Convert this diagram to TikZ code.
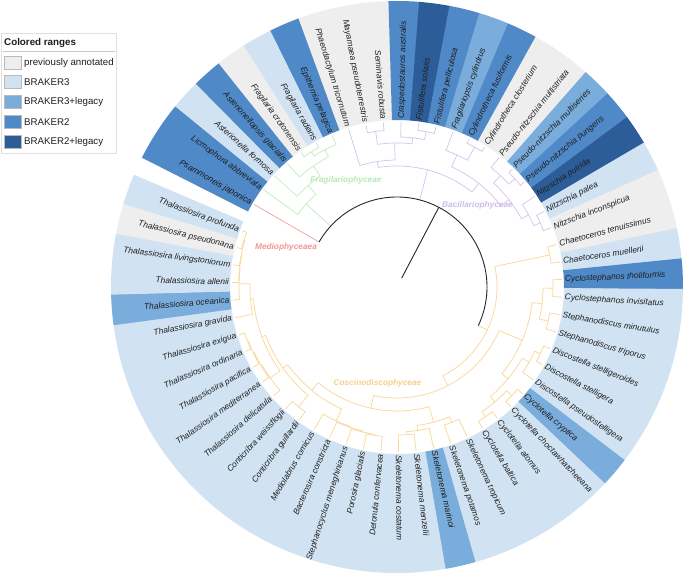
\documentclass[tikz,border=0pt]{standalone}
\usepackage{fontspec}
\setmainfont{Liberation Sans}
\definecolor{PA}{RGB}{237,238,237}
\definecolor{B3}{RGB}{209,227,242}
\definecolor{B3L}{RGB}{122,172,220}
\definecolor{B2}{RGB}{79,137,199}
\definecolor{B2L}{RGB}{45,93,153}
\definecolor{cpk}{RGB}{244,160,160}
\definecolor{cgr}{RGB}{190,238,190}
\definecolor{cpu}{RGB}{214,196,236}
\definecolor{cor}{RGB}{250,214,150}
\definecolor{tpk}{RGB}{242,150,150}
\definecolor{tgr}{RGB}{182,234,182}
\definecolor{tpu}{RGB}{205,188,232}
\definecolor{tor}{RGB}{248,208,140}
\definecolor{txt}{RGB}{30,30,30}
\newcommand\nd[6]{%
 \pgfmathsetmacro\ndAa{150-(#3-1)*6.140351}%
 \pgfmathsetmacro\ndAb{150-(#5-1)*6.140351}%
 \draw[#1] (\ndAa:#4pt) -- (\ndAa:#2pt) arc[start angle=\ndAa, end angle=\ndAb, radius=#2pt] -- (\ndAb:#6pt);}
\newcommand\stm[4]{%
 \pgfmathsetmacro\ndAa{150-(#2-1)*6.140351}%
 \draw[#1] (\ndAa:#3pt) -- (\ndAa:#4pt);}
\begin{document}
\begin{tikzpicture}[x=1pt,y=1pt,
  gr/.style={cgr,line width=0.7pt},
  pu/.style={cpu,line width=0.7pt},
  or/.style={cor,line width=0.7pt},
  pk/.style={cpk,line width=0.7pt},
  rt/.style={black!85,line width=0.9pt},
  leaf/.style={font=\fontsize{8.4}{9}\selectfont\itshape,text=txt,inner sep=0pt},
  clab/.style={font=\fontsize{8.3}{9}\selectfont\bfseries\itshape,inner sep=0pt},
  legtxt/.style={font=\fontsize{9.7}{11}\selectfont,text=txt,inner sep=0pt,anchor=west},
  legbox/.style={draw=gray!55,line width=0.4pt}]
\useasboundingbox (-397,-289) rectangle (288,287);
\fill[white] (-397,-289) rectangle (288,287);
% colored ranges
\foreach \i/\c in {1/B2,2/B2,3/B3,4/B2,5/PA,6/B3,7/B2,8/PA,9/PA,10/PA,11/B2,12/B2L,13/B2,14/B3L,15/B2,16/PA,17/PA,18/B3L,19/B2,20/B2L,21/B3,22/PA,23/PA,24/B3,25/B2,26/B3,27/B3,28/B3,29/B3,30/B3,31/B3,32/B3L,33/B3,34/B3,35/B3,36/B3,37/B3,38/B3L,39/B3,40/B3,41/B3,42/B3,43/B3,44/B3,45/B3,46/B3,47/B3,48/B3,49/B3,50/B3,51/B3,52/B3,53/B3,54/B3L,55/B3,56/B3,57/PA,58/B3}{
  \pgfmathsetmacro\bA{150-(\i-1)*6.140351+3.12}
  \pgfmathsetmacro\bB{150-(\i-1)*6.140351-3.12}
  \fill[\c] (\bA:167pt) arc[start angle=\bA,end angle=\bB,radius=167pt] -- (\bB:286pt) arc[start angle=\bB,end angle=\bA,radius=286pt] -- cycle;
}
% Fragilariophyceae
\nd{gr}{160}{5}{165}{6}{165}
\nd{gr}{155}{5.5}{160}{7}{165}
\nd{gr}{147}{4}{165}{6.25}{155}
\nd{gr}{135}{3}{165}{5.125}{147}
\nd{gr}{123}{2}{165}{4.0625}{135}
% Bacillariophyceae
\nd{pu}{158}{12}{165}{13}{165}
\nd{pu}{150}{11}{165}{12.5}{158}
\nd{pu}{157}{9}{165}{10}{165}
\nd{pu}{144}{9.5}{157}{11.75}{150}
\nd{pu}{127}{8}{165}{10.625}{144}
\nd{pu}{160}{15}{165}{16}{165}
\nd{pu}{145}{14}{165}{15.5}{160}
\nd{pu}{160}{18}{165}{19}{165}
\nd{pu}{152}{17}{165}{18.5}{160}
\nd{pu}{157}{21}{165}{22}{165}
\nd{pu}{150}{20}{165}{21.5}{157}
\nd{pu}{142}{17.75}{152}{20.75}{150}
\nd{pu}{132}{14.75}{145}{19.25}{142}
\nd{pu}{121}{9.3125}{127}{17}{132}
% Coscinodiscophyceae
\nd{or}{156}{23}{165}{24}{165}
\nd{or}{156}{25}{165}{26}{165}
\nd{or}{155}{27}{165}{28}{165}
\nd{or}{146}{25.5}{156}{27.5}{155}
\nd{or}{158}{29}{165}{30}{165}
\nd{or}{152}{29.5}{158}{31}{165}
\nd{or}{158}{32}{165}{33}{165}
\nd{or}{157}{34}{165}{35}{165}
\nd{or}{151}{32.5}{158}{34.5}{157}
\nd{or}{144}{30.25}{152}{33.5}{151}
\nd{or}{136}{26.5}{146}{31.875}{144}
\nd{or}{146}{36}{165}{37}{165}
\nd{or}{148}{39}{165}{40}{165}
\nd{or}{145}{38}{165}{39.5}{148}
\nd{or}{140}{36.5}{146}{38.75}{145}
\nd{or}{150}{41}{165}{42}{165}
\nd{or}{149}{41.5}{150}{43}{165}
\nd{or}{148}{42.25}{149}{44}{165}
\nd{or}{147}{43.125}{148}{45}{165}
\nd{or}{155}{46}{165}{47}{165}
\nd{or}{159}{51}{165}{52}{165}
\nd{or}{158}{50}{165}{51.5}{159}
\nd{or}{157}{49}{165}{50.75}{158}
\nd{or}{156}{48}{165}{49.875}{157}
\nd{or}{160}{57}{165}{58}{165}
\nd{or}{159}{56}{165}{57.5}{160}
\nd{or}{158.5}{55}{165}{56.75}{159}
\nd{or}{158}{54}{165}{55.875}{158.5}
\nd{or}{147}{53}{165}{54.9375}{158}
\nd{or}{144}{48.9375}{156}{53.96875}{147}
\nd{or}{140}{46.5}{155}{51.453125}{144}
\nd{or}{134}{44.0625}{147}{48.9765625}{140}
\nd{or}{124}{37.625}{140}{46.51953}{134}
\nd{or}{111}{29.1875}{136}{42.07227}{124}
\nd{or}{100}{23.5}{156}{35.62988}{111}
% root
\stm{pk}{1}{90}{165}
\stm{gr}{3.03125}{90}{123}
\stm{pu}{13.15625}{90}{121}
\stm{or}{29.56494}{90}{100}
\stm{rt}{15.28247}{10}{90}
\pgfmathsetmacro\rtB{150-(29.56494-1)*6.140351}
\draw[rt] (150:90pt) arc[start angle=150,end angle=\rtB,radius=90pt];
% leaf labels
\foreach \i/\t in {1/Psammoneis japonica,2/Licmophora abbreviata,3/Asterionella formosa,4/Asterionellopsis glacialis,5/Fragilaria crotonensis,6/Fragilaria radians,7/Epithemia pelagica,8/Phaeodactylum tricornutum,9/Mayamaea pseudoterrestris,10/Seminavis robusta,11/Craspedostauros australis,12/Fistulifera solaris,13/Fistulifera pelliculosa,14/Fragilariopsis cylindrus,15/Cylindrotheca fusiformis,16/Cylindrotheca closterium,17/Pseudo-nitzschia multistriata,18/Pseudo-nitzschia multiseries,19/Pseudo-nitzschia pungens,20/Nitzschia putrida,21/Nitzschia palea,22/Nitzschia inconspicua,23/Chaetoceros tenuissimus,24/Chaetoceros muellerii,25/Cyclostephanos tholiformis,26/Cyclostephanos invisitatus,27/Stephanodiscus minutulus,28/Stephanodiscus triporus,29/Discostella stelligeroides,30/Discostella stelligera,31/Discostella pseudostelligera,32/Cyclotella cryptica,33/Cyclotella choctawhatcheeana,34/Cyclotella atomus,35/Cyclotella baltica,36/Skeletonema tropicum,37/Skeletonema potamos,38/Skeletonema marinoi,39/Skeletonema menzelii,40/Skeletonema costatum,41/Detonula confervacea,42/Porosira glacialis,43/Stephanocyclus meneghinianus,44/Bacterosira constricta,45/Mediolabrus comicus,46/Conticribra guillardii,47/Conticribra weissflogii,48/Thalassiosira delicatula,49/Thalassiosira mediterranea,50/Thalassiosira pacifica,51/Thalassiosira ordinaria,52/Thalassiosira exigua,53/Thalassiosira gravida,54/Thalassiosira oceanica,55/Thalassiosira allenii,56/Thalassiosira livingstoniorum,57/Thalassiosira pseudonana,58/Thalassiosira profunda}{
  \pgfmathsetmacro\lA{150-(\i-1)*6.140351}
  \pgfmathsetmacro\lR{\lA+180}
  \ifnum\i<11
    \node[leaf,anchor=mid east,rotate=\lR] (leaf\i) at (\lA:168pt) {\t};
  \else\ifnum\i>40
    \node[leaf,anchor=mid east,rotate=\lR] (leaf\i) at (\lA:168pt) {\t};
  \else
    \node[leaf,anchor=mid west,rotate=\lA] (leaf\i) at (\lA:168pt) {\t};
  \fi\fi
}
% class labels
\node[clab,text=tpk] (cmed) at (-111,40) {Mediophyceaea};
\node[clab,text=tgr] (cfra) at (-51,107) {Fragilariophyceae};
\node[clab,text=tpu] (cbac) at (80.5,82) {Bacillariophyceae};
\node[clab,text=tor] (ccos) at (-19.5,-96.3) {Coscinodiscophyceae};
% legend
\draw[gray!25,line width=0.5pt] (-396,254) rectangle (-281,134);
\node[font=\fontsize{9.8}{11}\selectfont\bfseries,text=txt,inner sep=0pt,anchor=west] (ltitle) at (-393,244) {Colored ranges};
\draw[gray!45,line width=1pt] (-394,235) -- (-282,235);
\foreach \y/\c/\t [count=\k] in {224/PA/previously annotated,205/B3/BRAKER3,185/B3L/BRAKER3+legacy,165/B2/BRAKER2,145/B2L/BRAKER2+legacy}{
  \filldraw[fill=\c,legbox] (-393,\y-6.5) rectangle (-376,\y+6.5);
  \node[legtxt] (leg\k) at (-373,\y) {\t};
}
\end{tikzpicture}
\end{document}
